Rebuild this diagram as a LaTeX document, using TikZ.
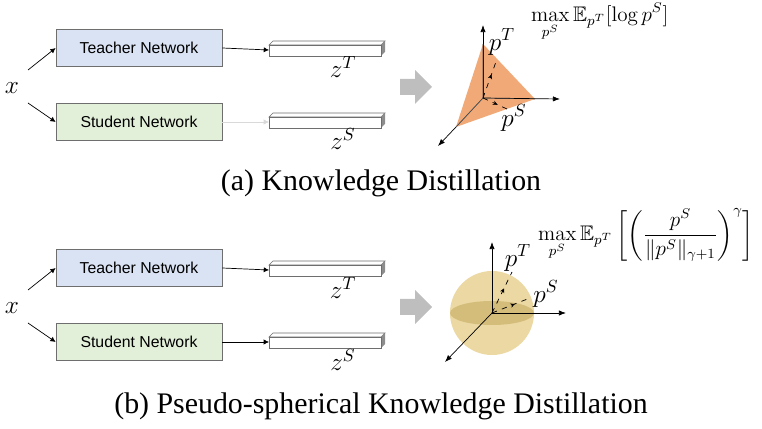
\documentclass[tikz,border=0pt]{standalone}
\usepackage{fontspec}
\usepackage{amsmath,amssymb}
\usetikzlibrary{positioning}
\usetikzlibrary{calc}
\usetikzlibrary{arrows.meta}
\usetikzlibrary{decorations.markings}
\newfontfamily\netfont{Liberation Sans}
\newfontfamily\capfont{Liberation Serif}
\definecolor{teachercolor}{RGB}{218, 227, 243}
\definecolor{studentcolor}{RGB}{226, 239, 217}
\definecolor{boxline}{RGB}{110, 110, 110}
\definecolor{simplexcolor}{RGB}{240, 160, 105}
\definecolor{spherecolor}{RGB}{222, 190, 100}
\definecolor{bigarrowcolor}{RGB}{190, 190, 190}
\tikzstyle{network} = [
    draw=boxline,
    minimum width=166*0.02cm,
    minimum height=37*0.02cm,
    inner sep=0pt,
    font=\netfont\fontsize{9}{10}\selectfont
]
\tikzstyle{forward} = [-{Latex[length=3pt, width=3pt]}, line width=0.4pt, black]
\tikzstyle{weak} = [-{Latex[length=3pt, width=3pt]}, line width=0.4pt, black!15]
\tikzstyle{axis} = [-{Latex[length=4pt, width=3pt]}, line width=0.4pt, black]
\tikzstyle{probe} = [dashed, line width=0.4pt, postaction={decorate},
    decoration={markings, mark=at position 0.6 with {\arrow{Stealth[length=2.5pt, width=2.5pt]}}}]
\tikzstyle{caption} = [font=\capfont\fontsize{17}{20}\selectfont]
\tikzset{
    % flat prism standing for a logit vector
    logits/.pic={
        \fill[white, draw=boxline, line width=0.3pt] (0,0) -- (4,-4) -- (116,-4) -- (112,0) -- cycle;
        \fill[black!45] (112,0) -- (116,-4) -- (116,7) -- (112,11) -- cycle;
        \draw[boxline, line width=0.3pt, fill=white] (0,0) rectangle (112,11);
    }
}
\begin{document}
\begin{tikzpicture}[x=0.02cm, y=-0.02cm]
    \useasboundingbox (0,0) rectangle (762,429);

    %
    % (a) Knowledge distillation

    % Networks
    \node (xa) at (12,88) {\Large $x$};
    \node[network, fill=teachercolor] (teachera) at (139,48) {Teacher Network};
    \node[network, fill=studentcolor] (studenta) at (139,122) {Student Network};
    \coordinate (xat) at (28,70);
    \coordinate (xas) at (28,103);
    \draw[forward] (xat) -- (teachera.west);
    \draw[forward] (xas) -- (studenta.west);

    % Logits
    \pic at (269,45) {logits};
    \pic at (269,117) {logits};
    \coordinate (zta) at (269,50);
    \coordinate (zsa) at (269,122);
    \draw[forward] (teachera.east) -- (zta);
    \draw[weak] (studenta.east) -- (zsa);
    \node (ztlabel) at (343,67) {\Large $z^T$};
    \node (zslabel) at (343,139) {\Large $z^S$};

    % Big arrow
    \fill[bigarrowcolor] (400,79) -- (415,79) -- (415,70) -- (432,87) -- (415,104) -- (415,95) -- (400,95) -- cycle;

    % Simplex
    \coordinate (oa) at (483,98);
    \coordinate (va) at (483,44);
    \coordinate (vb) at (535,99);
    \coordinate (vc) at (456,127);
    \fill[simplexcolor, opacity=0.9] (va) -- (vb) -- (vc) -- cycle;
    \draw[black!50, line width=0.3pt] (oa) -- (vb) (oa) -- (vc);
    \draw[axis] (oa) -- (483,25);
    \draw[axis] (oa) -- (560,99);
    \draw[axis] (vc) -- (438,146);
    \draw[black!70, line width=0.4pt] (oa) -- (vc) (oa) -- (va);
    \coordinate (pta) at (497,59);
    \coordinate (psa) at (507,109);
    \draw[probe] (oa) -- (pta);
    \draw[probe] (oa) -- (psa);
    \node (ptlabela) at (502,42) {\Large $p^T$};
    \node (pslabela) at (514,118) {\Large $p^S$};
    \node[anchor=west] (lossa) at (525,22) {\large$\displaystyle\max_{p^S}\mathbb{E}_{p^T}[\log p^S]$};

    \node[caption] (capa) at (381,183) {(a) Knowledge Distillation};

    %
    % (b) Pseudo-spherical knowledge distillation

    % Networks
    \node (xb) at (12,308) {\Large $x$};
    \node[network, fill=teachercolor] (teacherb) at (139,268) {Teacher Network};
    \node[network, fill=studentcolor] (studentb) at (139,342) {Student Network};
    \coordinate (xbt) at (28,290);
    \coordinate (xbs) at (28,323);
    \draw[forward] (xbt) -- (teacherb.west);
    \draw[forward] (xbs) -- (studentb.west);

    % Logits
    \pic at (269,265) {logits};
    \pic at (269,337) {logits};
    \coordinate (ztb) at (269,270);
    \coordinate (zsb) at (269,342);
    \draw[forward] (teacherb.east) -- (ztb);
    \draw[forward] (studentb.east) -- (zsb);
    \node (ztlabelb) at (343,288) {\Large $z^T$};
    \node (zslabelb) at (343,360) {\Large $z^S$};

    % Big arrow
    \fill[bigarrowcolor] (400,299) -- (415,299) -- (415,290) -- (432,307) -- (415,324) -- (415,315) -- (400,315) -- cycle;

    % Sphere
    \coordinate (ob) at (492,313);
    \fill[spherecolor, opacity=0.6] (ob) circle [radius=42];
    \fill[spherecolor!85!black, opacity=0.5] (ob) ellipse [x radius=42, y radius=12];
    \draw[axis] (ob) -- (492,242);
    \draw[axis] (ob) -- (566,313);
    \draw[axis] (ob) -- (445,362);
    \coordinate (ptb) at (512,272);
    \coordinate (psb) at (530,298);
    \draw[probe] (ob) -- (ptb);
    \draw[probe] (ob) -- (psb);
    \node (ptlabelb) at (518,258) {\Large $p^T$};
    \node (pslabelb) at (546,294) {\Large $p^S$};
    \node[anchor=west] (lossb) at (532,235) {\large$\displaystyle\max_{p^S}\mathbb{E}_{p^T}\left[\left(\frac{p^S}{\|p^S\|_{\gamma+1}}\right)^{\gamma}\right]$};

    \node[caption] (capb) at (381,406) {(b) Pseudo-spherical Knowledge Distillation};
\end{tikzpicture}
\end{document}
